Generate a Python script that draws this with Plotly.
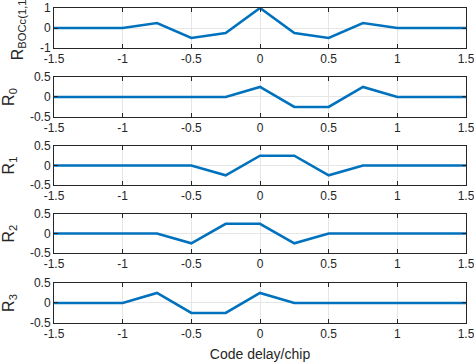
import plotly.graph_objects as go

delay = [-1.5, -1.0, -0.75, -0.5, -0.25, 0.0, 0.25, 0.5, 0.75, 1.0, 1.5]
r_bocc = [0, 0, 0.25, -0.5, -0.25, 1.0, -0.25, -0.5, 0.25, 0, 0]
r0 = [0, 0, 0, 0, 0, 0.25, -0.25, -0.25, 0.25, 0, 0]
r1 = [0, 0, 0, 0, -0.25, 0.25, 0.25, -0.25, 0, 0, 0]
r2 = [0, 0, 0, -0.25, 0.25, 0.25, -0.25, 0, 0, 0, 0]
r3 = [0, 0, 0.25, -0.25, -0.25, 0.25, 0, 0, 0, 0, 0]

series = [r_bocc, r0, r1, r2, r3]
ylabels = ["R<sub>BOCc(1,1)</sub>", "R<sub>0</sub>", "R<sub>1</sub>", "R<sub>2</sub>", "R<sub>3</sub>"]
yticks = [[-1, 0, 1], [-0.5, 0, 0.5], [-0.5, 0, 0.5], [-0.5, 0, 0.5], [-0.5, 0, 0.5]]
xticks = [-1.5, -1, -0.5, 0, 0.5, 1, 1.5]
xticklabels = ["-1.5", "-1", "-0.5", "0", "0.5", "1", "1.5"]
x_title = "Code delay/chip"

domains = [[0.873, 1.0], [0.654, 0.781], [0.438, 0.562], [0.222, 0.346], [0.0, 0.127]]

fig = go.Figure()
font = dict(family="Liberation Sans, Arial, sans-serif", size=12, color="#262626")
layout = dict(
    width=474, height=364,
    margin=dict(l=54, r=8, t=8, b=41, autoexpand=False),
    paper_bgcolor="white", plot_bgcolor="white",
    showlegend=False, font=font,
)
for i, (ys, lab, yt, dom) in enumerate(zip(series, ylabels, yticks, domains)):
    n = "" if i == 0 else str(i + 1)
    fig.add_trace(go.Scatter(x=delay, y=ys, mode="lines",
                             line=dict(color="#0072BD", width=2.6),
                             xaxis="x" + n, yaxis="y" + n, hoverinfo="skip"))
    layout["xaxis" + n] = dict(
        domain=[0, 1], anchor="y" + n, range=[-1.5, 1.5],
        tickvals=xticks, ticktext=xticklabels,
        showgrid=True, gridcolor="#e6e6e6", gridwidth=1,
        showline=True, linecolor="#262626", linewidth=1, mirror="allticks",
        ticks="inside", ticklen=4, tickcolor="#262626",
        zeroline=False, tickfont=dict(size=12), automargin=False,
        ticklabeloverflow="allow",
        title=dict(text=x_title if i == 4 else "", font=dict(size=14), standoff=8),
    )
    layout["yaxis" + n] = dict(
        domain=dom, anchor="x" + n, range=[yt[0], yt[-1]],
        tickvals=yt, ticktext=[("%g" % v) for v in yt],
        showgrid=True, gridcolor="#e6e6e6", gridwidth=1,
        showline=True, linecolor="#262626", linewidth=1, mirror="allticks",
        ticks="inside", ticklen=4, tickcolor="#262626",
        zeroline=False, tickfont=dict(size=12), automargin=False,
        ticklabeloverflow="allow",
        title=dict(text=lab, font=dict(size=16), standoff=12),
    )
fig.update_layout(**layout)
fig.write_html("out.html", config={"displayModeBar": False, "staticPlot": True},
               post_script="document.body.style.margin='0';")
